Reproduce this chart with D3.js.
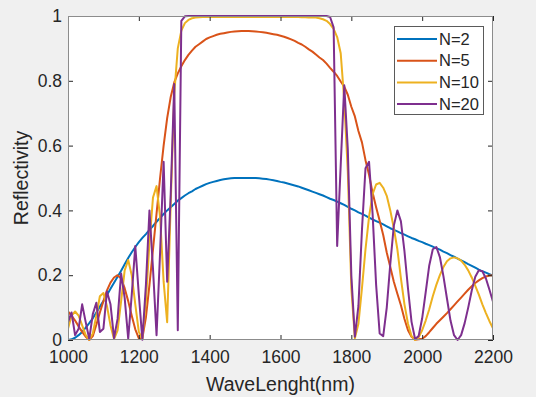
<!DOCTYPE html>
<html>
<head>
<meta charset="utf-8">
<script src="https://cdn.jsdelivr.net/npm/d3@7"></script>
<style>
  body { margin: 0; background: #f0f0f0; }
  svg { display: block; font-family: "Liberation Sans", Arial, Helvetica, sans-serif; }
  .tick text { fill: #262626; }
</style>
</head>
<body>
<div id="chart"></div>
<script>
// wavelength grid (nm), one sample every 10 nm
var waveLength = [
  1000, 1010, 1020, 1030, 1040, 1050, 1060, 1070, 1080, 1090,
  1100, 1110, 1120, 1130, 1140, 1150, 1160, 1170, 1180, 1190,
  1200, 1210, 1220, 1230, 1240, 1250, 1260, 1270, 1280, 1290,
  1300, 1310, 1320, 1330, 1340, 1350, 1360, 1370, 1380, 1390,
  1400, 1410, 1420, 1430, 1440, 1450, 1460, 1470, 1480, 1490,
  1500, 1510, 1520, 1530, 1540, 1550, 1560, 1570, 1580, 1590,
  1600, 1610, 1620, 1630, 1640, 1650, 1660, 1670, 1680, 1690,
  1700, 1710, 1720, 1730, 1740, 1750, 1760, 1770, 1780, 1790,
  1800, 1810, 1820, 1830, 1840, 1850, 1860, 1870, 1880, 1890,
  1900, 1910, 1920, 1930, 1940, 1950, 1960, 1970, 1980, 1990,
  2000, 2010, 2020, 2030, 2040, 2050, 2060, 2070, 2080, 2090,
  2100, 2110, 2120, 2130, 2140, 2150, 2160, 2170, 2180, 2190,
  2200
];

var reflN2 = [
  0, .002, .007, .015, .025, .038, .052, .067, .085, .103,
  .12, .139, .158, .177, .195, .214, .234, .253, .271, .287,
  .302, .315, .327, .34, .352, .365, .377, .389, .40, .41,
  .42, .43, .438, .446, .453, .459, .466, .471, .476, .481,
  .485, .488, .491, .494, .496, .498, .499, .5, .5, .5,
  .5, .5, .5, .5, .499, .498, .497, .495, .493, .491,
  .488, .486, .483, .48, .477, .474, .47, .466, .462, .458,
  .454, .45, .446, .441, .436, .432, .427, .422, .417, .411,
  .405, .40, .394, .389, .384, .378, .372, .367, .362, .357,
  .351, .345, .34, .335, .33, .325, .32, .315, .311, .306,
  .302, .297, .293, .288, .283, .279, .273, .268, .262, .257,
  .251, .246, .24, .234, .229, .223, .217, .212, .208, .203,
  .199
];

var reflN5 = [
  .088, .075, .06, .042, .025, .01, 0, .012, .047, .085,
  .12, .153, .177, .193, .2, .19, .16, .12, .075, .033,
  .005, .006, .07, .17, .28, .39, .50, .60, .685, .75,
  .795, .823, .845, .864, .88, .893, .905, .913, .921, .929,
  .934, .938, .942, .945, .947, .949, .951, .952, .953, .954,
  .954, .954, .953, .952, .951, .95, .948, .946, .944, .942,
  .939, .936, .932, .928, .923, .917, .912, .905, .897, .89,
  .881, .872, .864, .853, .84, .828, .815, .798, .782, .757,
  .72, .69, .645, .61, .555, .51, .455, .41, .368, .324,
  .27, .225, .18, .143, .107, .065, .03, .01, .001, .002,
  .004, .012, .024, .037, .05, .061, .072, .083, .095, .107,
  .119, .131, .143, .155, .166, .176, .184, .191, .196, .199,
  .2
];

var reflN10 = [
  .035, .075, .088, .075, .045, .015, .001, .02, .075, .135,
  .145, .105, .045, .003, .03, .12, .215, .247, .2, .11,
  .025, .003, .12, .30, .44, .475, .38, .18, .055, .42,
  .76, .90, .955, .978, .988, .993, .995, .996, .997, .997,
  .997, .997, .997, .997, .997, .997, .997, .997, .997, .997,
  .997, .997, .997, .997, .997, .997, .997, .997, .997, .997,
  .997, .997, .997, .997, .997, .997, .996, .996, .995, .995,
  .995, .993, .99, .985, .975, .96, .935, .885, .74, .52,
  .16, .005, .05, .16, .28, .38, .45, .48, .485, .47,
  .445, .40, .345, .28, .19, .11, .05, .012, 0, .008,
  .03, .06, .095, .135, .17, .20, .225, .243, .252, .255,
  .252, .245, .232, .215, .193, .167, .14, .11, .083, .058,
  .036
];

var reflN20 = [
  .055, .085, .015, .035, .11, .055, .003, .08, .115, .025,
  .035, .15, .11, .006, .065, .205, .13, .004, .14, .29,
  .14, .001, .17, .40, .22, .015, .27, .55, .18, .45,
  .79, .03, .985, .999, 1, 1, 1, 1, 1, 1,
  1, 1, 1, 1, 1, 1, 1, 1, 1, 1,
  1, 1, 1, 1, 1, 1, 1, 1, 1, 1,
  1, 1, 1, 1, 1, 1, 1, 1, 1, 1,
  1, 1, 1, 1, .997, .965, .29, .54, .786, .59,
  .2, .01, .105, .34, .53, .55, .39, .17, .02, .012,
  .10, .235, .353, .40, .366, .274, .159, .056, .003, .012,
  .067, .148, .23, .28, .287, .256, .197, .128, .06, .015,
  0, .015, .052, .10, .153, .195, .215, .212, .19, .155,
  .118
];

var seriesNames = ["N=2", "N=5", "N=10", "N=20"];
var seriesColors = ["#0072bd", "#d95319", "#edb120", "#7e2f8e"];
var xTicks = [1000, 1200, 1400, 1600, 1800, 2000, 2200];
var yTicks = [0, 0.2, 0.4, 0.6, 0.8, 1];

var svgWidth = 536;
var svgHeight = 397;
var plot = { left: 68, top: 16, right: 493, bottom: 340 };

var svg = d3.select("#chart")
  .append("svg")
  .attr("width", svgWidth)
  .attr("height", svgHeight);

svg.append("rect")
  .attr("width", svgWidth)
  .attr("height", svgHeight)
  .attr("fill", "#f0f0f0");

var xScale = d3.scaleLinear().domain([1000, 2200]).range([plot.left, plot.right]);
var yScale = d3.scaleLinear().domain([0, 1]).range([plot.bottom, plot.top]);

// white axes area
svg.append("rect")
  .attr("x", plot.left)
  .attr("y", plot.top)
  .attr("width", plot.right - plot.left)
  .attr("height", plot.bottom - plot.top)
  .attr("fill", "#ffffff");

var allSeries = [reflN2, reflN5, reflN10, reflN20];

svg.append("clipPath").attr("id", "plotClip")
  .append("rect")
  .attr("x", plot.left)
  .attr("y", plot.top - 2)
  .attr("width", plot.right - plot.left)
  .attr("height", plot.bottom - plot.top + 4);

var line = d3.line()
  .x(function(d) { return xScale(d[0]); })
  .y(function(d) { return yScale(d[1]); });

var lines = svg.append("g").attr("clip-path", "url(#plotClip)");
allSeries.forEach(function(vals, i) {
  var pts = waveLength.map(function(w, j) { return [w, vals[j]]; });
  lines.append("path")
    .datum(pts)
    .attr("d", line)
    .attr("fill", "none")
    .attr("stroke", seriesColors[i])
    .attr("stroke-width", 2)
    .attr("stroke-linejoin", "round");
});

// axes: ticks point inward, box drawn around
var tickLen = 5;
var axisColor = "#262626";

var xAxis = svg.append("g")
  .attr("transform", "translate(0," + plot.bottom + ")")
  .call(d3.axisBottom(xScale).tickValues(xTicks).tickSizeInner(-tickLen).tickSizeOuter(0)
    .tickPadding(11).tickFormat(d3.format("d")));
var xAxisTop = svg.append("g")
  .attr("transform", "translate(0," + plot.top + ")")
  .call(d3.axisTop(xScale).tickValues(xTicks).tickSizeInner(-tickLen).tickSizeOuter(0).tickFormat(""));
var yAxis = svg.append("g")
  .attr("transform", "translate(" + plot.left + ",0)")
  .call(d3.axisLeft(yScale).tickValues(yTicks).tickSizeInner(-tickLen).tickSizeOuter(0).tickPadding(6)
    .tickFormat(function(d) { return d === 0 || d === 1 ? d : d3.format(".1f")(d); }));
var yAxisRight = svg.append("g")
  .attr("transform", "translate(" + plot.right + ",0)")
  .call(d3.axisRight(yScale).tickValues(yTicks).tickSizeInner(-tickLen).tickSizeOuter(0).tickFormat(""));

[xAxis, xAxisTop, yAxis, yAxisRight].forEach(function(a) {
  a.select(".domain").remove();
  a.selectAll(".tick line").attr("stroke", axisColor).attr("stroke-width", 1);
  a.selectAll(".tick text").attr("font-size", 17.5).attr("font-family", null);
});

svg.append("rect")
  .attr("x", plot.left + 0.5)
  .attr("y", plot.top + 0.5)
  .attr("width", plot.right - plot.left - 1)
  .attr("height", plot.bottom - plot.top - 1)
  .attr("fill", "none")
  .attr("stroke", "#8c8c8c")
  .attr("stroke-width", 1);

// axis labels
svg.append("text")
  .attr("x", (plot.left + plot.right) / 2)
  .attr("y", 391)
  .attr("text-anchor", "middle")
  .attr("font-size", 19.5)
  .attr("fill", axisColor)
  .text("WaveLenght(nm)");

svg.append("text")
  .attr("transform", "translate(28," + ((plot.top + plot.bottom) / 2) + ")rotate(-90)")
  .attr("text-anchor", "middle")
  .attr("font-size", 19.5)
  .attr("fill", axisColor)
  .text("Reflectivity");

// legend
var legend = svg.append("g").attr("transform", "translate(394,26)");
legend.append("rect")
  .attr("x", 0.5)
  .attr("y", 0.5)
  .attr("width", 89)
  .attr("height", 88)
  .attr("fill", "#ffffff")
  .attr("stroke", "#5a5a5a")
  .attr("stroke-width", 1);

seriesNames.forEach(function(name, i) {
  var rowY = 13 + i * 21.7;
  legend.append("line")
    .attr("x1", 3)
    .attr("x2", 43)
    .attr("y1", rowY)
    .attr("y2", rowY)
    .attr("stroke", seriesColors[i])
    .attr("stroke-width", 2);
  legend.append("text")
    .attr("x", 45)
    .attr("y", rowY)
    .attr("dy", "0.35em")
    .attr("font-size", 16.5)
    .attr("fill", axisColor)
    .text(name);
});
</script>
</body>
</html>
